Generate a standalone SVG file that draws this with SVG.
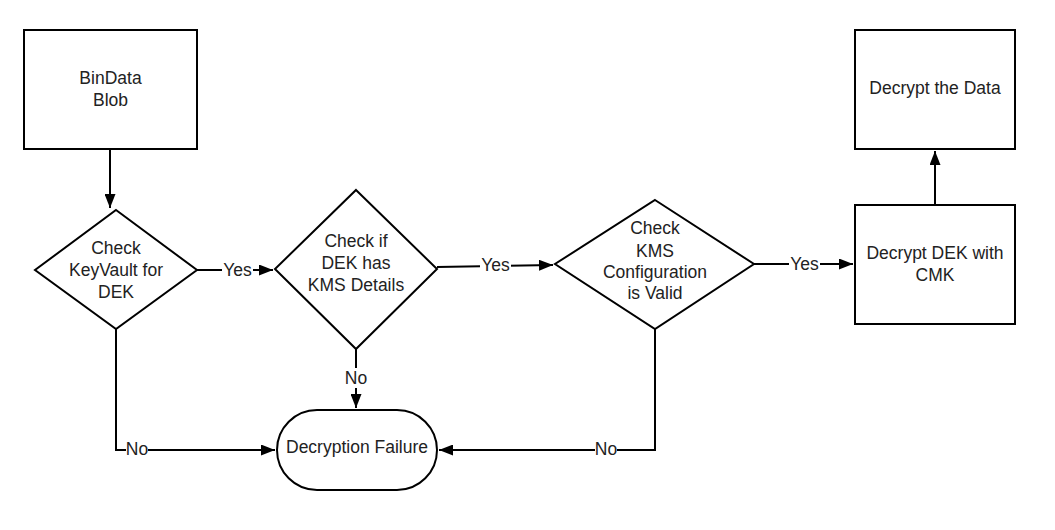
<svg xmlns="http://www.w3.org/2000/svg" width="1055" height="530" viewBox="0 0 1055 530">
<style>
.shape{fill:#fff;stroke:#000;stroke-width:2}
.t{font-family:"Liberation Sans",Arial,sans-serif;font-size:17.5px;fill:#222;text-anchor:middle}
.c{fill:none;stroke:#000;stroke-width:2}
.lbl{fill:#fff}
</style>
<defs>
<marker id="ah" markerUnits="userSpaceOnUse" markerWidth="15" markerHeight="11" refX="14" refY="5.5" orient="auto">
<path d="M0,0 L14,5.5 L0,11 z" fill="#000"/>
</marker>
</defs>
<rect width="1055" height="530" fill="#fff"/>
<g id="connectors">
<path class="c" d="M110,149 L110,208" marker-end="url(#ah)"/>
<path class="c" d="M197,270 L273,270" marker-end="url(#ah)"/>
<path class="c" d="M437,267 L553,265" marker-end="url(#ah)"/>
<path class="c" d="M754,264 L853,264" marker-end="url(#ah)"/>
<path class="c" d="M935,205 L935,151" marker-end="url(#ah)"/>
<path class="c" d="M356,349 L356,408" marker-end="url(#ah)"/>
<path class="c" d="M116,329 L116,450 L275,450" marker-end="url(#ah)"/>
<path class="c" d="M655,329 L655,450 L439,450" marker-end="url(#ah)"/>
<rect class="lbl" x="222" y="260" width="31" height="20"/>
<text class="t" x="237.5" y="276">Yes</text>
<rect class="lbl" x="480" y="255" width="31" height="20"/>
<text class="t" x="495.5" y="271">Yes</text>
<rect class="lbl" x="789" y="254" width="31" height="20"/>
<text class="t" x="804.5" y="270">Yes</text>
<rect class="lbl" x="345" y="368" width="22" height="20"/>
<text class="t" x="356" y="384">No</text>
<rect class="lbl" x="126" y="439" width="22" height="20"/>
<text class="t" x="137" y="455">No</text>
<rect class="lbl" x="595" y="439" width="22" height="20"/>
<text class="t" x="606" y="455">No</text>
</g>
<g id="bindata">
<rect class="shape" x="24" y="30" width="173" height="119"/>
<text class="t" x="110.5" y="84">BinData</text>
<text class="t" x="110.5" y="106">Blob</text>
</g>
<g id="check-keyvault">
<polygon class="shape" points="116,210 197,270 116,329 35,270"/>
<text class="t" x="116" y="254">Check</text>
<text class="t" x="116" y="276">KeyVault for</text>
<text class="t" x="116" y="298">DEK</text>
</g>
<g id="check-kms-details">
<polygon class="shape" points="356,190 437,269 356,349 275,269"/>
<text class="t" x="356" y="247">Check if</text>
<text class="t" x="356" y="269">DEK has</text>
<text class="t" x="356" y="291">KMS Details</text>
</g>
<g id="check-kms-config">
<polygon class="shape" points="655,200 754,264 655,329 555,264"/>
<text class="t" x="655" y="234">Check</text>
<text class="t" x="655" y="257">KMS</text>
<text class="t" x="655" y="278">Configuration</text>
<text class="t" x="655" y="299">is Valid</text>
</g>
<g id="decrypt-dek">
<rect class="shape" x="855" y="205" width="160" height="119"/>
<text class="t" x="935" y="259">Decrypt DEK with</text>
<text class="t" x="935" y="281">CMK</text>
</g>
<g id="decrypt-data">
<rect class="shape" x="855" y="30" width="160" height="119"/>
<text class="t" x="935" y="94">Decrypt the Data</text>
</g>
<g id="decryption-failure">
<rect class="shape" x="277" y="410" width="160" height="80" rx="40" ry="40"/>
<text class="t" x="357" y="453">Decryption Failure</text>
</g>
</svg>
